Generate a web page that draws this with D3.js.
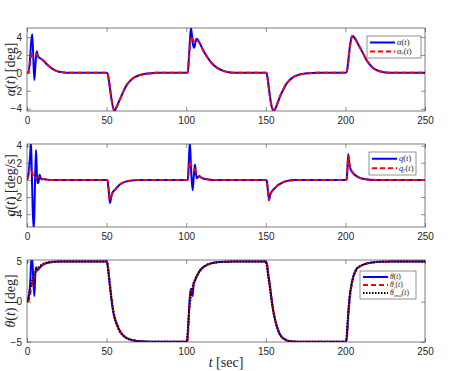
<!DOCTYPE html>
<html><head><meta charset="utf-8">
<script src="https://cdn.jsdelivr.net/npm/d3@7"></script>
<style>
body{margin:0;background:#fff;}
svg{display:block;}
.tick text{font-family:"Liberation Sans",Arial,sans-serif;font-size:10px;fill:#262626;}
.tick line{stroke:#262626;stroke-width:0.5;}
</style></head>
<body>
<svg id="c" width="474" height="371"></svg>
<script>
// ---------- data ----------
const xTicks = [0, 50, 100, 150, 200, 250];
const alphaTicks = [-4, -2, 0, 2, 4];
const qTicks = [-4, -2, 0, 2, 4];
const thetaTicks = [-5, 0, 5];

const alpha = [[0,0],[1,0.1],[2,1.8],[2.6,3.4],[3.3,4.3],[4.0,1.5],[4.6,-0.8],[5.3,0.9],[6.1,2.4],[7.0,1.8],[7.6,1.7],[8.5,1.6],[10,1.4],[12,1.05],[14,0.7],[16,0.45],[18,0.25],[20,0.13],[23,0.05],[26,0.01],[30,0],
[50,0],[50.5,-0.05],[51.5,-0.9],[52.5,-2.2],[53.5,-3.4],[54.9,-4.25],[56,-3.9],[57.5,-3.3],[59,-2.7],[61,-1.9],[63,-1.25],[65,-0.85],[67,-0.55],[70,-0.3],[73,-0.15],[77,-0.06],[81,0],
[100,0],[101,0.05],[101.8,2.0],[102.4,3.8],[103,5.0],[103.6,4.2],[104.2,3.2],[105,2.8],[105.8,3.4],[106.5,3.8],[107.2,3.7],[108.5,3.3],[110,2.75],[112,2.1],[114,1.55],[116,1.1],[118,0.75],[120,0.5],[123,0.25],[126,0.1],[130,0.02],[135,0],
[150,0],[150.6,-0.1],[151.5,-1.1],[152.5,-2.5],[153.5,-3.6],[155,-4.2],[156,-4.0],[157.5,-3.3],[159,-2.6],[161,-1.85],[163,-1.2],[165,-0.8],[167,-0.5],[170,-0.25],[173,-0.12],[177,-0.04],[182,0],
[200,0],[200.8,0.1],[201.8,1.3],[202.8,2.9],[203.8,3.9],[204.5,4.1],[205.3,4.0],[206.5,3.7],[208,3.2],[209.5,2.7],[211,2.2],[213,1.5],[215,1.0],[217,0.6],[219,0.35],[221,0.2],[224,0.08],[228,0.02],[235,0],[250,0]];

const alphaR = [[0,0],[1,0.1],[2,1.2],[3,2.1],[4,2.2],[5,2.15],[6,2.05],[7,1.85],[8,1.7],[10,1.4],[12,1.05],[14,0.7],[16,0.45],[18,0.25],[20,0.13],[23,0.05],[26,0.01],[30,0],
[50,0],[50.5,-0.05],[51.5,-0.9],[52.5,-2.2],[53.5,-3.4],[54.9,-4.2],[56,-3.9],[57.5,-3.3],[59,-2.7],[61,-1.9],[63,-1.25],[65,-0.85],[67,-0.55],[70,-0.3],[73,-0.15],[77,-0.06],[81,0],
[100,0],[101,0.05],[101.8,1.8],[102.5,3.3],[103.3,4.1],[104.5,3.6],[105.5,3.5],[106.5,3.6],[108.5,3.3],[110,2.75],[112,2.1],[114,1.55],[116,1.1],[118,0.75],[120,0.5],[123,0.25],[126,0.1],[130,0.02],[135,0],
[150,0],[150.6,-0.1],[151.5,-1.1],[152.5,-2.5],[153.5,-3.6],[155,-4.15],[156,-4.0],[157.5,-3.3],[159,-2.6],[161,-1.85],[163,-1.2],[165,-0.8],[167,-0.5],[170,-0.25],[173,-0.12],[177,-0.04],[182,0],
[200,0],[200.8,0.1],[201.8,1.3],[202.8,2.9],[203.8,3.9],[204.5,4.1],[205.3,4.0],[206.5,3.7],[208,3.2],[209.5,2.7],[211,2.2],[213,1.5],[215,1.0],[217,0.6],[219,0.35],[221,0.2],[224,0.08],[228,0.02],[235,0],[250,0]];

const q = [[0,0],[1,0.8],[2,3.0],[2.5,4.4],[3.0,1.0],[3.6,-3.5],[4.3,-5.8],[4.9,-1.5],[5.6,3.5],[6.0,2.0],[6.5,-0.4],[7.2,-0.3],[7.9,0.6],[8.5,0.3],[9.2,0.05],[10,0.1],[12,0.05],[15,0],
[50,0],[50.5,-0.05],[51.3,-1.2],[52.1,-2.7],[52.8,-2.1],[53.6,-1.5],[55,-1.2],[56.5,-0.9],[58,-0.6],[60,-0.35],[62,-0.2],[65,-0.08],[70,0],
[100,0],[101,0.05],[101.6,2.0],[102.3,4.4],[103,1.5],[104,-1.2],[104.8,0.5],[105.5,1.8],[106.1,0.8],[106.7,0.2],[107.5,0.35],[108.4,0.4],[110,0.2],[112,0.1],[115,0.03],[118,0],
[150,0],[150.6,-0.1],[151.3,-1.2],[152,-2.3],[152.8,-1.7],[154,-1.3],[155.5,-1.0],[157,-0.7],[159,-0.45],[161,-0.25],[164,-0.1],[168,-0.02],[172,0],
[200,0],[200.8,0.1],[201.3,1.5],[201.8,3.0],[202.4,2.0],[203,1.4],[204,1.0],[205,0.75],[207,0.45],[209,0.25],[212,0.1],[215,0.03],[220,0],[250,0]];

const qR = [[0,0],[1,0.6],[2,1.4],[3,1.1],[4,0.4],[5,0.2],[6,0.3],[7,0.4],[8,0.2],[10,0.1],[12,0.05],[15,0],
[50,0],[50.5,-0.05],[51.3,-1.1],[52.1,-2.3],[52.8,-2.0],[53.6,-1.5],[55,-1.2],[56.5,-0.9],[58,-0.6],[60,-0.35],[62,-0.2],[65,-0.08],[70,0],
[100,0],[101,0.05],[101.7,1.2],[102.3,2.2],[103,1.8],[104,1.5],[105,1.3],[106,1.0],[107.5,0.6],[109,0.35],[111,0.18],[114,0.06],[118,0],
[150,0],[150.6,-0.1],[151.3,-1.2],[152,-2.4],[152.8,-1.7],[154,-1.3],[155.5,-1.0],[157,-0.7],[159,-0.45],[161,-0.25],[164,-0.1],[168,-0.02],[172,0],
[200,0],[200.8,0.1],[201.3,1.4],[201.8,2.8],[202.4,2.0],[203,1.4],[204,1.0],[205,0.75],[207,0.45],[209,0.25],[212,0.1],[215,0.03],[220,0],[250,0]];

const theta = [[0,0],[1,0.5],[2,2.3],[2.8,5.4],[3.3,5.4],[4.0,2.5],[4.6,0.7],[5.1,2.8],[5.6,4.3],[6.5,3.9],[7.5,4.1],[8.5,4.35],[10,4.6],[12,4.8],[15,4.93],[20,5],
[50,5],[50.5,4.8],[51.6,2.9],[52.6,1.1],[53.7,-0.7],[54.7,-1.8],[55.8,-2.5],[57,-3.1],[58.5,-3.7],[60,-4.1],[62,-4.45],[64,-4.65],[66,-4.78],[70,-4.9],[75,-4.97],[80,-5],
[100,-5],[100.7,-4.8],[101.4,-2.5],[102.1,0.2],[102.8,1.6],[103.4,1.0],[104,0.7],[104.6,2.0],[105.5,2.6],[107,3.3],[109,4.0],[111,4.35],[113,4.6],[116,4.8],[121,4.95],[130,5],
[150,5],[150.6,4.8],[151.6,3.3],[152.6,2.0],[153.6,0.4],[154.7,-1.1],[155.8,-2.2],[156.8,-3.0],[158.4,-3.9],[160,-4.4],[162,-4.7],[164,-4.88],[167,-4.96],[172,-5],
[200,-5],[200.7,-4.8],[201.7,-1.8],[202.8,0.8],[203.8,2.1],[204.9,3.1],[206,3.7],[207,4.1],[209,4.4],[211,4.6],[214,4.8],[217,4.9],[222,4.98],[230,5],[250,5]];

const thetaR = [[0,0],[1,0.1],[2,1.0],[3,2.1],[4,2.8],[5,3.4],[6,3.8],[7,4.1],[8.5,4.4],[10,4.6],[12,4.8],[15,4.93],[20,5],
[50,5],[50.5,4.85],[51.6,3.1],[52.6,1.3],[53.7,-0.5],[54.7,-1.6],[55.8,-2.4],[57,-3.0],[58.5,-3.65],[60,-4.05],[62,-4.45],[64,-4.65],[66,-4.78],[70,-4.9],[75,-4.97],[80,-5],
[100,-5],[100.8,-4.8],[101.4,-3.0],[102.1,-0.5],[102.8,0.8],[103.5,1.5],[104.6,2.2],[105.5,2.7],[107,3.3],[109,3.9],[111,4.3],[113,4.55],[116,4.8],[121,4.95],[130,5],
[150,5],[150.7,4.8],[151.7,3.2],[152.7,1.8],[153.7,0.2],[154.8,-1.2],[155.9,-2.3],[156.9,-3.0],[158.5,-3.9],[160,-4.4],[162,-4.7],[164,-4.88],[167,-4.96],[172,-5],
[200,-5],[200.8,-4.8],[201.8,-1.9],[202.9,0.7],[203.9,2.0],[205,3.0],[206,3.6],[207,4.0],[209,4.4],[211,4.6],[214,4.8],[217,4.9],[222,4.98],[230,5],[250,5]];

const thetaCmd = [[0,0],[1,0.6],[2,1.6],[3,2.5],[4,3.1],[5,3.6],[6,4.0],[7,4.25],[8.5,4.5],[10,4.7],[12,4.85],[15,4.95],[20,5],
[50,5],[50.4,4.7],[51.3,3.3],[52.3,1.6],[53.3,0.0],[54.4,-1.3],[55.5,-2.3],[56.7,-3.0],[58.2,-3.7],[60,-4.15],[62,-4.5],[64,-4.7],[66,-4.8],[70,-4.92],[75,-4.98],[80,-5],
[100,-5],[100.5,-4.7],[101.2,-3.0],[102,-0.8],[102.8,0.6],[103.6,1.5],[104.6,2.3],[105.6,2.8],[107,3.4],[109,4.0],[111,4.35],[113,4.6],[116,4.8],[121,4.95],[130,5],
[150,5],[150.4,4.7],[151.4,3.3],[152.4,1.9],[153.4,0.4],[154.5,-1.0],[155.6,-2.1],[156.7,-2.9],[158.3,-3.85],[160,-4.35],[162,-4.68],[164,-4.86],[167,-4.95],[172,-5],
[200,-5],[200.5,-4.7],[201.5,-2.2],[202.6,0.5],[203.6,1.9],[204.7,2.9],[205.8,3.6],[207,4.05],[209,4.4],[211,4.6],[214,4.8],[217,4.9],[222,4.98],[230,5],[250,5]];

// ---------- drawing ----------
const svg = d3.select("#c");
const X0 = 27, X1 = 425;
const x = d3.scaleLinear().domain([0, 250]).range([X0, X1]);

const panels = [
  {top:28, bot:111, dom:[-4.25,5], ticks:alphaTicks, series:[
      {d:alpha, c:"#0000ff", dash:null},
      {d:alphaR, c:"#ff0000", dash:"5,3"}],
   ylab:["α","(", "t", ")  [deg]"],
   legend:{x:367,y:36,w:54,h:22, fs:8.5, rows:[
      {c:"#0000ff",dash:null,sym:"α",sub:null},
      {c:"#ff0000",dash:"5,3",sym:"α",sub:"r"}]}},
  {top:144, bot:227, dom:[-5.5,4.2], ticks:qTicks, series:[
      {d:q, c:"#0000ff", dash:null},
      {d:qR, c:"#ff0000", dash:"5,3"}],
   ylab:["q","(", "t", ")  [deg/s]"],
   legend:{x:369,y:152,w:47,h:23, fs:8.5, rows:[
      {c:"#0000ff",dash:null,sym:"q",sub:null},
      {c:"#ff0000",dash:"5,3",sym:"q",sub:"r"}]}},
  {top:260, bot:342, dom:[-5.02,5.2], ticks:thetaTicks, series:[
      {d:theta, c:"#0000ff", dash:null},
      {d:thetaR, c:"#ff0000", dash:"5,3"},
      {d:thetaCmd, c:"#000000", dash:"1.5,1.5"}],
   ylab:["θ","(", "t", ")  [deg]"],
   legend:{x:360,y:271,w:56,h:28, fs:7.5, rows:[
      {c:"#0000ff",dash:null,sym:"θ",sub:null},
      {c:"#ff0000",dash:"5,3",sym:"θ",sub:"r"},
      {c:"#000000",dash:"1.5,1.5",sym:"θ",sub:"cmd"}]}}
];

panels.forEach((p, i) => {
  const y = d3.scaleLinear().domain(p.dom).range([p.bot, p.top]);
  const g = svg.append("g");
  const clipId = "clip" + i;
  svg.append("clipPath").attr("id", clipId).append("rect")
     .attr("x", X0).attr("y", p.top).attr("width", X1 - X0).attr("height", p.bot - p.top);

  // axes (ticks inward)
  g.append("g").attr("transform", `translate(0,${p.bot})`)
    .call(d3.axisBottom(x).tickValues(xTicks).tickSizeInner(-4).tickSizeOuter(0).tickPadding(6))
    .call(a => a.select(".domain").remove());
  g.append("g").attr("transform", `translate(0,${p.top})`)
    .call(d3.axisBottom(x).tickValues(xTicks).tickSizeInner(4).tickSizeOuter(0).tickFormat(""))
    .call(a => a.select(".domain").remove());
  g.append("g").attr("transform", `translate(${X0},0)`)
    .call(d3.axisLeft(y).tickValues(p.ticks).tickSizeInner(-4).tickSizeOuter(0).tickPadding(5))
    .call(a => a.select(".domain").remove());
  g.append("g").attr("transform", `translate(${X1},0)`)
    .call(d3.axisLeft(y).tickValues(p.ticks).tickSizeInner(4).tickSizeOuter(0).tickFormat(""))
    .call(a => a.select(".domain").remove());

  const line = d3.line().x(d => x(d[0])).y(d => y(d[1])).curve(d3.curveMonotoneX);
  const lg = g.append("g").attr("clip-path", `url(#${clipId})`);
  p.series.forEach(s => {
    lg.append("path").attr("d", line(s.d)).attr("fill", "none")
      .attr("stroke", s.c).attr("stroke-width", 2)
      .attr("stroke-dasharray", s.dash);
  });

  g.append("rect").attr("x", X0).attr("y", p.top).attr("width", X1 - X0).attr("height", p.bot - p.top)
    .attr("fill", "none").attr("stroke", "#262626").attr("stroke-width", 0.6);

  // y label
  const yl = g.append("text")
    .attr("transform", `translate(15,${(p.top + p.bot) / 2}) rotate(-90)`)
    .attr("text-anchor", "middle")
    .attr("font-family", "'Liberation Serif','DejaVu Serif',serif")
    .attr("font-size", 14).attr("fill", "#262626");
  yl.append("tspan").attr("font-style", "italic").text(p.ylab[0]);
  yl.append("tspan").text(p.ylab[1]);
  yl.append("tspan").attr("font-style", "italic").text(p.ylab[2]);
  yl.append("tspan").text(p.ylab[3]);

  // legend
  const L = p.legend;
  const leg = g.append("g");
  leg.append("rect").attr("x", L.x).attr("y", L.y).attr("width", L.w).attr("height", L.h)
    .attr("fill", "#fff").attr("stroke", "#262626").attr("stroke-width", 0.5);
  const rowH = (L.h - 4) / L.rows.length;
  L.rows.forEach((r, k) => {
    const cy = L.y + 2 + rowH * (k + 0.5);
    leg.append("line").attr("x1", L.x + 3).attr("x2", L.x + 28).attr("y1", cy).attr("y2", cy)
      .attr("stroke", r.c).attr("stroke-width", 2).attr("stroke-dasharray", r.dash);
    const t = leg.append("text").attr("x", L.x + 30).attr("y", cy + L.fs * 0.32)
      .attr("font-family", "'Liberation Serif','DejaVu Serif',serif")
      .attr("font-size", L.fs).attr("fill", "#262626");
    t.append("tspan").attr("font-style", "italic").text(r.sym);
    if (r.sub) t.append("tspan").attr("font-style", "italic").attr("font-size", L.fs * 0.65).attr("dy", 1.2).text(r.sub);
    t.append("tspan").attr("dy", r.sub ? -1.2 : 0).text("(");
    t.append("tspan").attr("font-style", "italic").text("t");
    t.append("tspan").text(")");
  });
});

// x label
const xl = svg.append("text").attr("x", 226).attr("y", 367).attr("text-anchor", "middle")
  .attr("font-family", "'Liberation Serif','DejaVu Serif',serif").attr("font-size", 14).attr("fill", "#262626");
xl.append("tspan").attr("font-style", "italic").text("t");
xl.append("tspan").text("  [sec]");
</script>
</body></html>
